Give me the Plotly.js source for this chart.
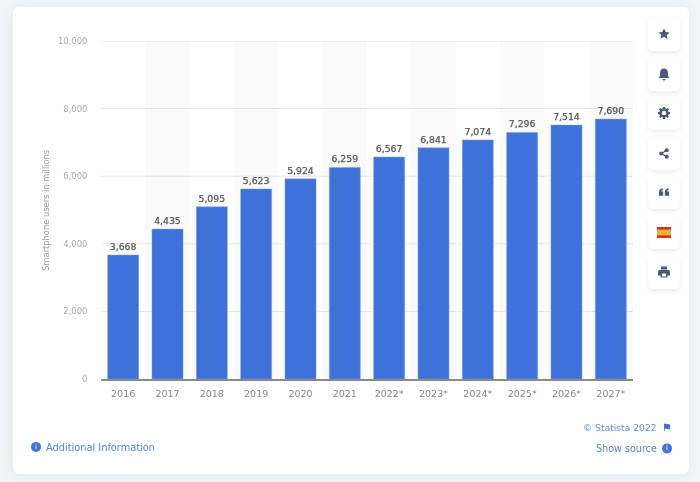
<!DOCTYPE html>
<html><head><meta charset="utf-8">
<script src="https://cdn.plot.ly/plotly-3.0.1.min.js"></script>
<style>
html,body{margin:0;padding:0;width:700px;height:482px;overflow:hidden;background:#f3f4f7;}
#card{position:absolute;left:13px;top:7px;width:676px;height:467px;background:#fff;border-radius:6px;box-shadow:0 2px 14px rgba(60,70,110,.08);}
#plot{position:absolute;left:0;top:0;width:700px;height:482px;filter:blur(0.35px);}
#plot .bartext{stroke:#555555;stroke-width:0.25px;}
.btn{position:absolute;left:648px;width:32px;height:32.5px;background:#fff;border-radius:5px;box-shadow:0 2px 5px rgba(60,70,110,.10);display:flex;align-items:center;justify-content:center;}
.btn svg{display:block;filter:blur(0.3px);}
</style></head><body>
<div id="card"></div>
<div id="plot"></div>
<div class="btn" style="top:18px"><svg width="12" height="12" viewBox="0 0 24 24"><path fill="#48597a" d="M12 1l3.4 7.2 7.8 1-5.7 5.4 1.5 7.8L12 17.6l-7 3.8 1.5-7.8L.8 9.2l7.8-1z"/></svg></div>
<div class="btn" style="top:58px"><svg width="12" height="13" viewBox="0 0 24 26"><path fill="#48597a" d="M12 1c5 0 8 4 8 9v6l3 4H1l3-4v-6c0-5 3-9 8-9zM9 22h6a3 3 0 0 1-6 0z"/></svg></div>
<div class="btn" style="top:97px"><svg width="12" height="12" viewBox="0 0 24 24"><path fill="none" stroke="#48597a" stroke-width="5" d="M12 5a7 7 0 1 1 0 14a7 7 0 1 1 0-14z"/><path stroke="#48597a" stroke-width="4.5" d="M12 0v5M12 19v5M0 12h5M19 12h5M3.5 3.5l3.5 3.5M17 17l3.5 3.5M3.5 20.500l3.500-3.500M17 7l3.500-3.500"/></svg></div>
<div class="btn" style="top:137px"><svg width="10" height="11" viewBox="0 0 22 24"><path fill="none" stroke="#48597a" stroke-width="2.500" d="M17 5L5 12l12 7"/><circle cx="17" cy="5" r="4.500" fill="#48597a"/><circle cx="5" cy="12" r="4.500" fill="#48597a"/><circle cx="17" cy="19" r="4.500" fill="#48597a"/></svg></div>
<div class="btn" style="top:176px"><svg width="10" height="8" viewBox="0 0 24 18"><path fill="#48597a" d="M0 18V9c0-5 3-8 9-9v4c-2 .5-3 2-3 4h4v10zM14 18V9c0-5 3-8 9-9v4c-2 .5-3 2-3 4h4v10z"/></svg></div>
<div class="btn" style="top:216px"><svg width="14" height="11" viewBox="0 0 14 11"><rect width="14" height="11" fill="#c8382e"/><rect y="2.700" width="14" height="5.600" fill="#eab32f"/></svg></div>
<div class="btn" style="top:256px"><svg width="12" height="12" viewBox="0 0 24 24"><path fill="#48597a" d="M6 1h12v6H6zM3 8h18a3 3 0 0 1 3 3v8h-5v4H5v-4H0v-8a3 3 0 0 1 3-3zM8 15v6h8v-6z"/></svg></div>
<script>
var years = ['2016','2017','2018','2019','2020','2021','2022*','2023*','2024*','2025*','2026*','2027*'];
var users = [3668,4435,5095,5623,5924,6259,6567,6841,7074,7296,7514,7690];
var yTicks = [0,2000,4000,6000,8000,10000];
var yTickLabels = ['0','2,000','4,000','6,000','8,000','10,000'];
var yTitle = 'Smartphone users in millions';
var footerLeft = 'Additional Information';
var footerCopy = '© Statista 2022';
var footerSource = 'Show source';

var W = 700, H = 482, L = 101, R = 633, T = 41, B = 379.5;
var fam = '"DejaVu Sans", sans-serif';
function px(x){ return (x - L) / (R - L); }
function py(y){ return (B - y) / (B - T); }

var shapes = [];
years.forEach(function(y, i){
  if (i % 2 === 1) shapes.push({type:'rect', layer:'below', xref:'x', yref:'y',
    x0:i-0.5, x1:i+0.5, y0:0, y1:10000, line:{width:0}, fillcolor:'rgba(0,0,0,0.02)'});
});
yTicks.forEach(function(v){
  if (v > 0) shapes.push({type:'line', layer:'below', xref:'paper', yref:'y',
    x0:0, x1:1, y0:v, y1:v, line:{color:'#e8e8e8', width:1}});
});

function note(text, x, y, anchor, color, size){
  return {text:text, xref:'paper', yref:'paper', x:px(x), y:py(y), xanchor:anchor, yanchor:'middle',
    showarrow:false, font:{family:fam, size:size, color:color}};
}
function dot(cx, cy){
  return {type:'circle', xref:'paper', yref:'paper', x0:px(cx-5), x1:px(cx+5), y0:py(cy+5), y1:py(cy-5),
    fillcolor:'#3f74d6', line:{width:0}};
}
shapes.push(dot(36, 447.5));
shapes.push(dot(667, 449));
shapes.push({type:'path', xref:'paper', yref:'paper',
  path:['M',px(664),py(433),'L',px(664),py(424),'L',px(670),py(425),'L',px(670),py(430),'L',px(665),py(429),'Z'].join(' '),
  fillcolor:'#3f74d6', line:{width:0}});

var annotations = [
  note(yTitle, 46, 211, 'center', '#999999', 8.300),
  note(footerLeft, 43.500, 447.700, 'left', '#4f86de', 9.800),
  note(footerCopy, 658.500, 428, 'right', '#5f92e2', 9.200),
  note(footerSource, 659, 449, 'right', '#4f86de', 9.600),
  note('i', 36, 447.500, 'center', '#ffffff', 7),
  note('i', 667, 449, 'center', '#ffffff', 7)
];
annotations[0].textangle = -90;

Plotly.newPlot('plot', [{
  type:'bar', x:years, y:users,
  marker:{color:'#3f72d8', line:{color:'#7ba0e6', width:0.5}},
  width:0.7,
  text:users.map(function(v){ return v.toLocaleString('en-US'); }),
  textposition:'outside', cliponaxis:false,
  textfont:{family:fam, size:9.300, color:'#555555'},
  hoverinfo:'skip'
}], {
  width:W, height:H, autosize:false,
  margin:{l:L, r:W-R, t:T, b:H-B, pad:0},
  paper_bgcolor:'rgba(0,0,0,0)', plot_bgcolor:'rgba(0,0,0,0)',
  showlegend:false,
  shapes:shapes, annotations:annotations,
  xaxis:{type:'category', tickmode:'array', tickvals:years, ticktext:years, range:[-0.5,11.5],
    showgrid:false, zeroline:false, showline:true, linecolor:'#8a8a8a', linewidth:2,
    ticks:'outside', ticklen:5, tickcolor:'rgba(0,0,0,0)', fixedrange:true,
    tickfont:{family:fam, size:9.500, color:'#888888'}},
  yaxis:{range:[0,10000], tickmode:'array', tickvals:yTicks, ticktext:yTickLabels,
    showgrid:false, zeroline:false, showline:false,
    ticks:'outside', ticklen:11, tickcolor:'rgba(0,0,0,0)', fixedrange:true,
    tickfont:{family:fam, size:8.400, color:'#aaaaaa'}}
}, {displayModeBar:false, staticPlot:true});
</script>
</body></html>
